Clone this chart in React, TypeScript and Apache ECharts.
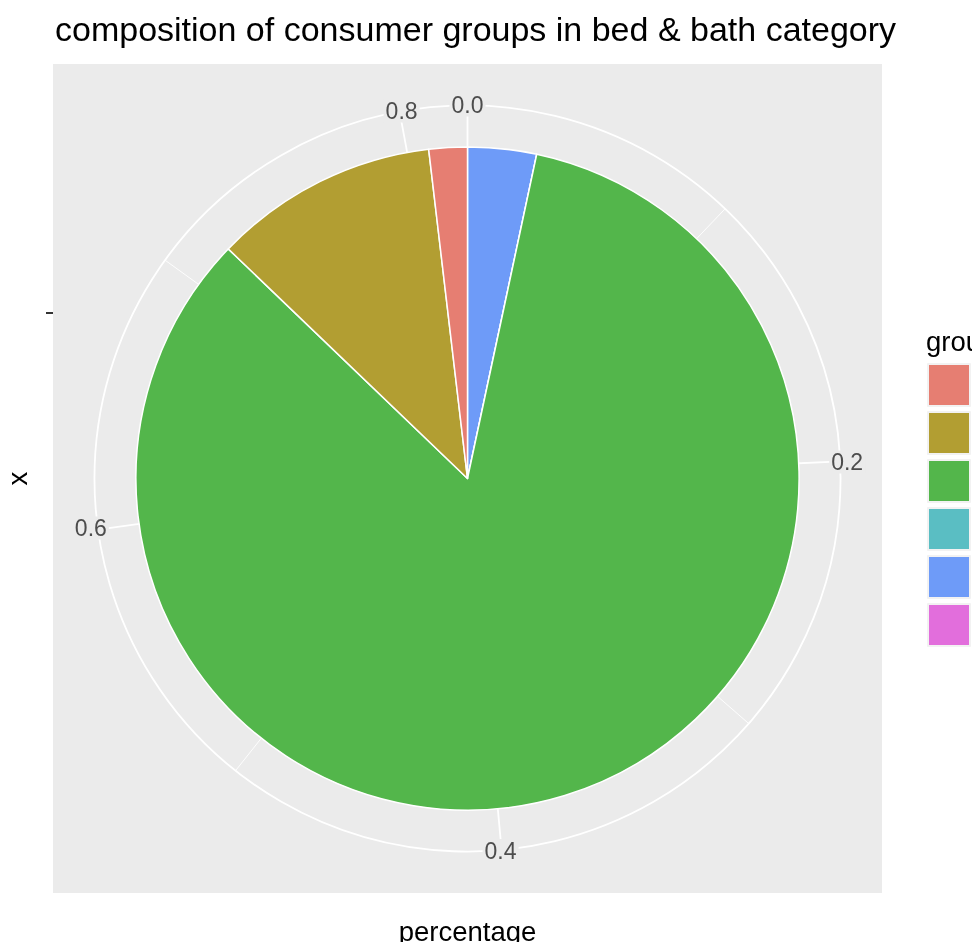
import React, { useEffect, useRef } from "react";
import * as echarts from "echarts";

// legend order (ggplot factor levels)
const groups = ["1", "2", "3", "4", "5", "6"];
const groupColors = ["#E67E72", "#B29E32", "#53B64B", "#5ABEC3", "#6E9BF8", "#E26EDC"];
// share of each consumer group
const percentages = [0.0154, 0.0903, 0.6907, 0, 0.0276, 0];
// theta axis break step and r-axis category
const thetaInterval = 0.2;
const xCategories = [""];

export default function App() {
  const ref = useRef<HTMLDivElement>(null);
  useEffect(() => {
    const chart = echarts.init(ref.current!, null, { renderer: "svg" });
    const total = percentages.reduce((a, b) => a + b, 0);
    const panelLeft = 53;
    const panelTop = 64;
    const side = 829;
    const cx = panelLeft + side / 2;
    const cy = panelTop + side / 2;
    // ggplot stacks the first level on top => clockwise order is reversed
    const pieData = groups
      .map((g, i) => ({ name: g, value: percentages[i], itemStyle: { color: groupColors[i] } }))
      .reverse();
    const font = "'Liberation Sans', Arial, sans-serif";
    const angleBase = {
      type: "value",
      min: 0,
      max: total,
      interval: thetaInterval,
      startAngle: 90,
      clockwise: true,
    };
    chart.setOption({
      animation: false,
      textStyle: { fontFamily: font },
      title: [
        {
          text: "composition of consumer groups in bed & bath category",
          left: 55,
          top: 12,
          padding: 0,
          textStyle: { fontSize: 34, fontWeight: "normal", color: "#000", fontFamily: font },
        },
        {
          text: "group",
          left: 926,
          top: 327,
          padding: 0,
          textStyle: { fontSize: 27.5, fontWeight: "normal", color: "#000", fontFamily: font },
        },
      ],
      grid: {
        left: panelLeft,
        top: panelTop,
        width: side,
        height: side,
        show: true,
        backgroundColor: "#EBEBEB",
        borderWidth: 0,
        outerBoundsMode: "none",
        containLabel: false,
      },
      xAxis: {
        type: "value",
        min: 0,
        max: total,
        name: "percentage",
        nameLocation: "middle",
        nameGap: 24,
        nameTextStyle: { fontSize: 27.5, color: "#000", fontFamily: font },
        axisLine: { show: false },
        axisTick: { show: false },
        axisLabel: { show: false },
        splitLine: { show: false },
      },
      yAxis: {
        type: "value",
        min: -0.75,
        max: 1.75,
        name: "x",
        nameLocation: "middle",
        nameRotate: 90,
        nameGap: 22,
        nameTextStyle: { fontSize: 27.5, color: "#000", fontFamily: font },
        axisLine: { show: false },
        splitLine: { show: false },
        axisTick: { show: true, customValues: [1], length: 7, lineStyle: { color: "#333333", width: 2 } },
        axisLabel: { show: true, customValues: [1], formatter: () => xCategories[0] },
      },
      polar: [
        { center: [cx, cy], radius: 0.45 * side },
        { center: [cx, cy], radius: 0.45 * side },
      ],
      radiusAxis: [
        { polarIndex: 0, type: "value", min: 0, max: 1, show: false },
        { polarIndex: 1, type: "value", min: 0, max: 1, show: false },
      ],
      angleAxis: [
        {
          ...angleBase,
          polarIndex: 0,
          z: 0,
          axisLine: { show: true, lineStyle: { color: "#FFFFFF", width: 1.8 } },
          axisTick: { show: false },
          minorTick: { show: false, splitNumber: 2 },
          splitLine: { show: true, lineStyle: { color: "#FFFFFF", width: 1.8 } },
          minorSplitLine: { show: true, lineStyle: { color: "#FFFFFF", width: 0.9 } },
          axisLabel: { show: false },
        },
        {
          ...angleBase,
          polarIndex: 1,
          z: 1,
          axisLine: { show: false },
          axisTick: { show: false },
          splitLine: { show: false },
          axisLabel: {
            margin: -11,
            fontSize: 23,
            color: "#4D4D4D",
            fontFamily: font,
            backgroundColor: "#EBEBEB",
            padding: [0, 2],
            formatter: (v: number) =>
              Math.abs(v / thetaInterval - Math.round(v / thetaInterval)) < 1e-6 ? v.toFixed(1) : "",
          },
        },
      ],
      legend: {
        orient: "vertical",
        left: 927,
        top: 363,
        padding: 0,
        itemWidth: 42,
        itemHeight: 42,
        itemGap: 4,
        icon: "rect",
        selectedMode: false,
        data: groups,
        itemStyle: { borderColor: "#F2F2F2", borderWidth: 2 },
        textStyle: { fontSize: 22, color: "#000", fontFamily: font },
      },
      series: [
        {
          type: "pie",
          center: [cx, cy],
          radius: 0.4 * side,
          startAngle: 90,
          clockwise: true,
          silent: true,
          z: 3,
          data: pieData,
          label: { show: false },
          labelLine: { show: false },
          itemStyle: { borderColor: "#FFFFFF", borderWidth: 1.5 },
          emphasis: { disabled: true },
        },
      ],
    });
    return () => chart.dispose();
  }, []);
  return <div ref={ref} style={{ position: "fixed", left: 0, top: 0, width: 972, height: 942 }} />;
}
